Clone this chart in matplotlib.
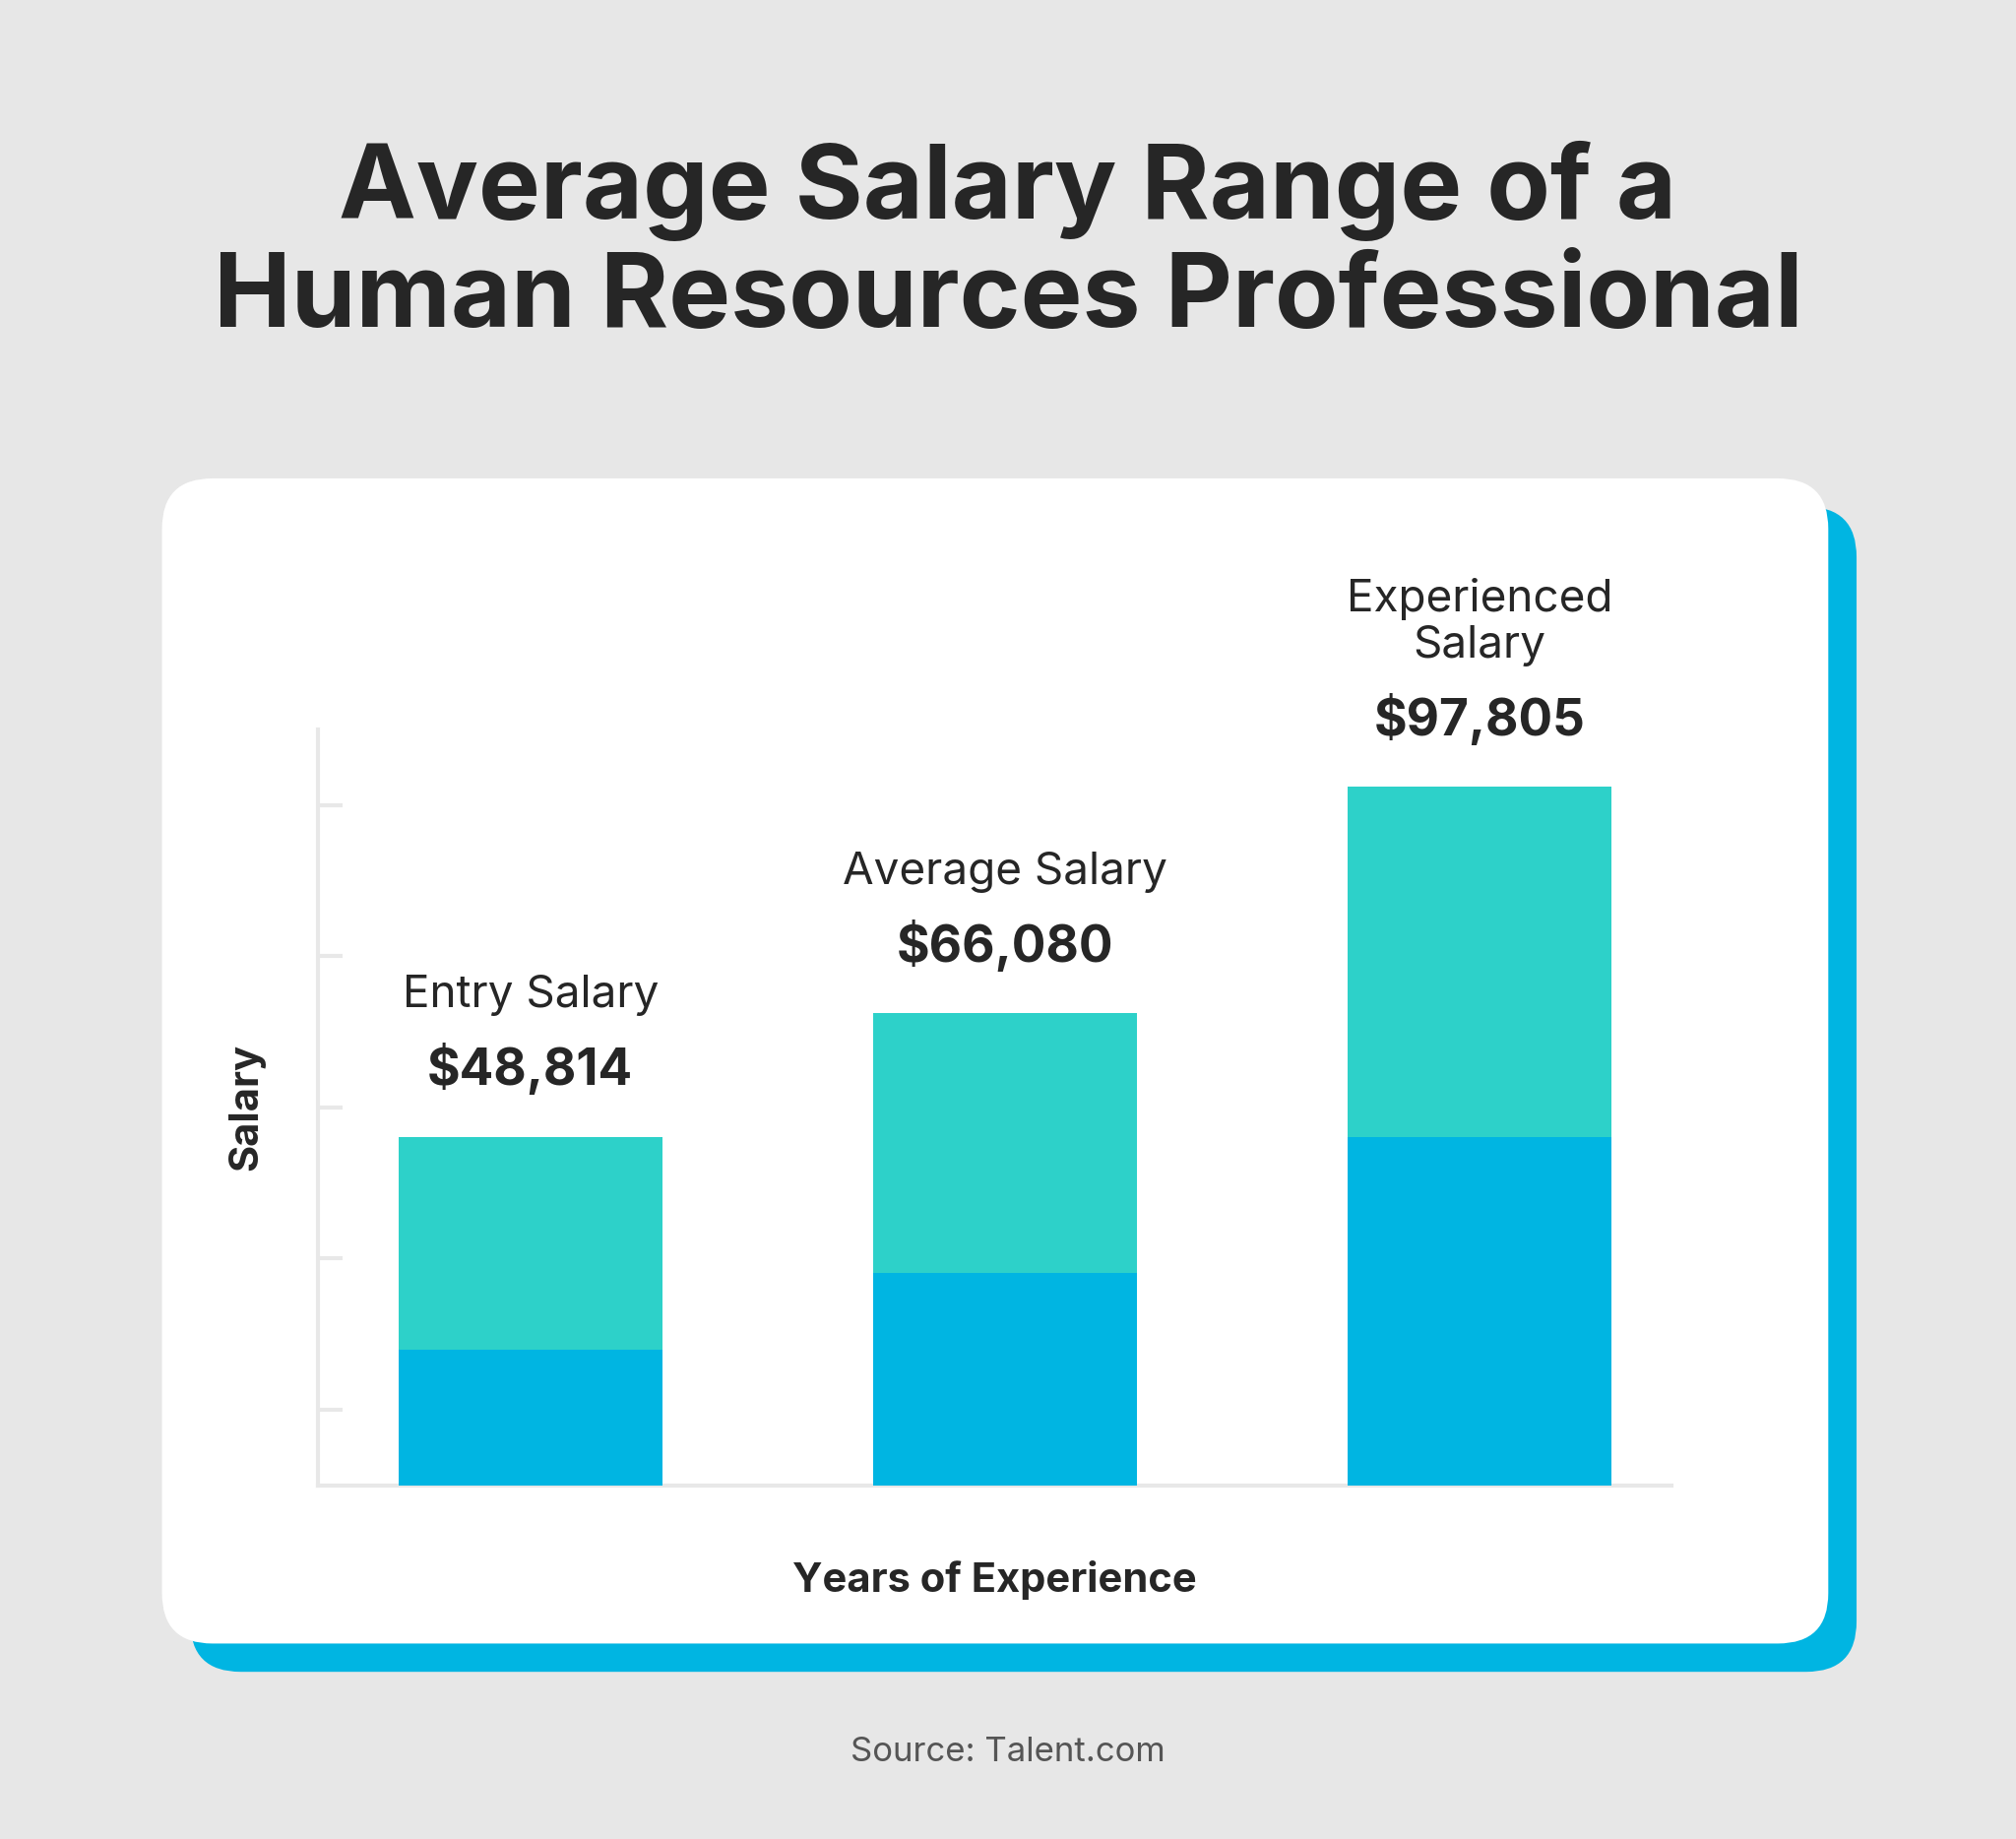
import matplotlib.pyplot as plt
from matplotlib.patches import FancyBboxPatch

categories = ['Entry Salary', 'Average Salary', 'Experienced\nSalary']
salaries = [48814, 66080, 97805]
value_labels = ['$48,814', '$66,080', '$97,805']
lower_part = [19000, 29800, 48800]

BG = '#E7E7E7'
TEAL = '#2DD1C9'
BLUE = '#00B5E2'
DARK = '#262626'

W, H = 1568, 1430  # layout grid (reference pixels)
def fx(x): return x / W
def fy(y): return 1 - y / H

plt.rcParams['font.family'] = ['Inter', 'DejaVu Sans']
fig = plt.figure(figsize=(20.48, 18.68), dpi=100, facecolor=BG)

# card with blue shadow
shadow = FancyBboxPatch((fx(148), fy(1300)), fx(1444) - fx(148), fy(394) - fy(1300),
                        boxstyle='round,pad=0,rounding_size=0.025', transform=fig.transFigure,
                        facecolor=BLUE, edgecolor='none', mutation_aspect=W / H, zorder=-2)
card = FancyBboxPatch((fx(126), fy(1278)), fx(1422) - fx(126), fy(372) - fy(1278),
                      boxstyle='round,pad=0,rounding_size=0.025', transform=fig.transFigure,
                      facecolor='white', edgecolor='none', mutation_aspect=W / H, zorder=-1)
fig.patches.extend([shadow, card])

fig.text(0.5, fy(190), 'Average Salary Range of a\nHuman Resources Professional',
         ha='center', va='center', fontsize=76, fontweight='bold', color=DARK, linespacing=1.15)
fig.text(0.5, fy(1363), 'Source: Talent.com', ha='center', va='center', fontsize=25, color='#555555')

ax = fig.add_axes([fx(247), fy(1155), fx(1300) - fx(247), fy(567) - fy(1155)])
ax.set_zorder(5)
ax.patch.set_alpha(0)
x = range(len(categories))
ax.bar(x, salaries, width=0.556, color=TEAL, zorder=2)
ax.bar(x, lower_part, width=0.556, color=BLUE, zorder=3)
ax.set_xlim(-0.4485, 2.405)
ax.set_ylim(0, 105900)
for s in ['top', 'right']:
    ax.spines[s].set_visible(False)
for s in ['left', 'bottom']:
    ax.spines[s].set_color('#E8E8E8')
    ax.spines[s].set_linewidth(3)
ax.set_xticks([])
ax.set_yticks([10600 + 21160 * i for i in range(5)])
ax.set_yticklabels([])
ax.tick_params(axis='y', length=18, width=3, color='#E8E8E8', direction='in')

for i, (v, lab, cat) in enumerate(zip(salaries, value_labels, categories)):
    ax.annotate(lab, (i, v), xytext=(0, 30), textcoords='offset points', ha='center', va='bottom',
                fontsize=37, fontweight='bold', color=DARK)
    ax.annotate(cat, (i, v), xytext=(0, 88), textcoords='offset points', ha='center', va='bottom',
                fontsize=33, color=DARK, linespacing=1.15)

ax.set_xlabel('Years of Experience', fontsize=30, fontweight='bold', color=DARK, labelpad=55)
ax.set_ylabel('Salary', fontsize=30, fontweight='bold', color=DARK, labelpad=35)

fig.savefig('out.png', dpi=100, facecolor=BG)
